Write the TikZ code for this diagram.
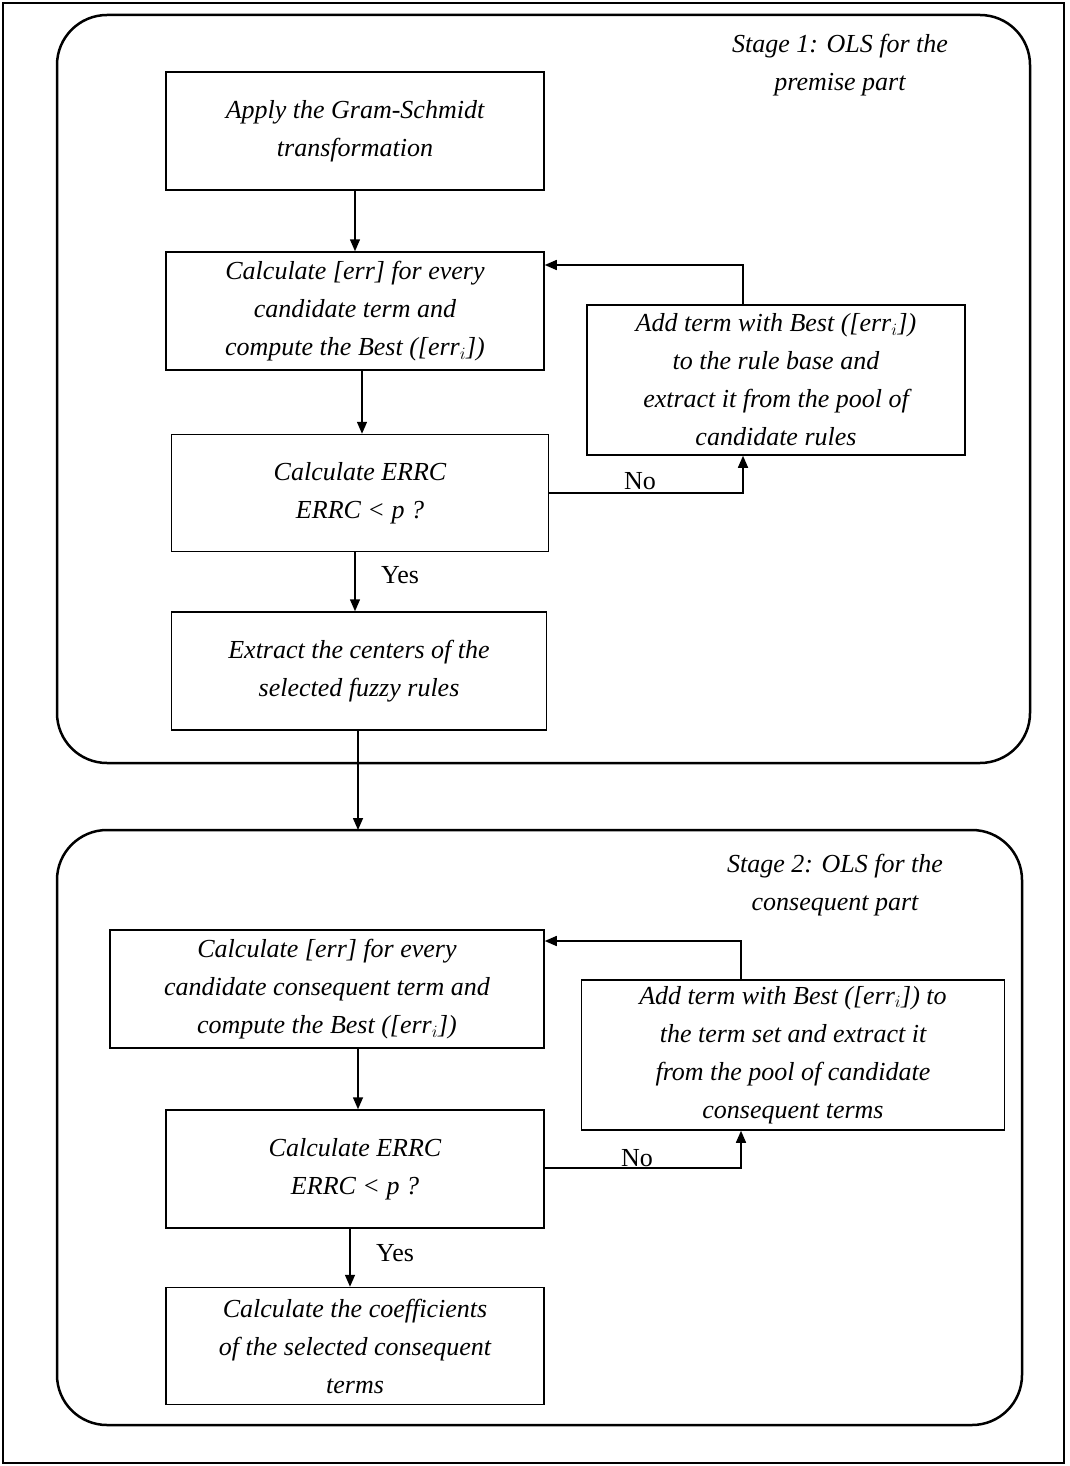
\documentclass[tikz,border=0pt]{standalone}
\usepackage{fontspec}
\setmainfont{Liberation Serif}
\usetikzlibrary{arrows.meta}
\begin{document}
\begin{tikzpicture}[x=1pt,y=-1pt,
  box/.style={draw,line width=1.5pt,align=center,font=\fontsize{26}{38}\selectfont\itshape,inner sep=0pt},
  stage/.style={draw,line width=2.5pt,rounded corners=50pt},
  lbl/.style={font=\fontsize{26}{38}\selectfont\itshape,align=center},
  yn/.style={font=\fontsize{26}{30}\selectfont},
  arr/.style={line width=1.5pt,-{Triangle[length=12pt,width=10pt]}}]
\useasboundingbox (0,0) rectangle (1070,1466);
\draw[line width=2pt] (3,3) rectangle (1064,1463);
% stage 1
\draw[stage] (57,15) rectangle (1030,763);
\node[lbl] (s1) at (840,65) {Stage 1: OLS for the\\premise part};
\node[box,minimum width=378pt,minimum height=118pt] (A) at (355,131) {Apply the Gram-Schmidt\\transformation};
\node[box,minimum width=378pt,minimum height=118pt] (B) at (355,311) {Calculate [err] for every\\candidate term and\\compute the Best ([err$_i$])};
\node[box,minimum width=378pt,minimum height=150pt] (C) at (776,380) {Add term with Best ([err$_i$])\\to the rule base and\\extract it from the pool of\\candidate rules};
\node[box,minimum width=377pt,minimum height=117pt] (D) at (360,493) {Calculate ERRC\\ERRC < p ?};
\node[box,minimum width=375pt,minimum height=118pt] (E) at (359,671) {Extract the centers of the\\selected fuzzy rules};
\draw[arr] (A.south) -- (B.north);
\draw[arr] ([xshift=7pt]B.south) -- ([xshift=2pt]D.north);
\draw[arr] ([xshift=-5pt]D.south) -- ([xshift=-4pt]E.north);
\node[yn] (y1) at (400,575) {Yes};
\coordinate (c1) at (743,493);
\draw[arr] (D.east) -- (c1) -- (c1 |- C.south);
\node[yn] (n1) at (640,481) {No};
\coordinate (c2) at (743,265);
\draw[arr] (c2 |- C.north) -- (c2) -- (B.east |- c2);
% stage 2
\draw[stage] (57,830) rectangle (1022,1425);
\node[lbl] (s2) at (835,885) {Stage 2: OLS for the\\consequent part};
\coordinate (top2) at (358,830);
\draw[arr] (E.south -| top2) -- (top2);
\node[box,minimum width=434pt,minimum height=118pt] (F) at (327,989) {Calculate [err] for every\\candidate consequent term and\\compute the Best ([err$_i$])};
\node[box,minimum width=423pt,minimum height=150pt] (G) at (793,1055) {Add term with Best ([err$_i$]) to\\the term set and extract it\\from the pool of candidate\\consequent terms};
\node[box,minimum width=378pt,minimum height=118pt] (H) at (355,1169) {Calculate ERRC\\ERRC < p ?};
\node[box,minimum width=378pt,minimum height=117pt] (I) at (355,1346) {Calculate the coefficients\\of the selected consequent\\terms};
\coordinate (c5) at (358,1048);
\draw[arr] (F.south -| c5) -- (H.north -| c5);
\draw[arr] ([xshift=-5pt]H.south) -- ([xshift=-5pt]I.north);
\node[yn] (y2) at (395,1253) {Yes};
\coordinate (c3) at (741,1168);
\draw[arr] (H.east |- c3) -- (c3) -- (c3 |- G.south);
\node[yn] (n2) at (637,1158) {No};
\coordinate (c4) at (741,941);
\draw[arr] (c4 |- G.north) -- (c4) -- (F.east |- c4);
\end{tikzpicture}
\end{document}
